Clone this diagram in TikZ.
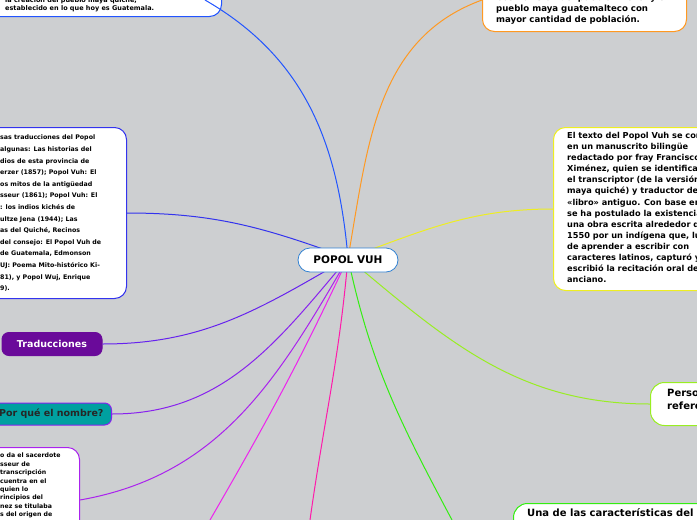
\documentclass[tikz,border=0pt]{standalone}
\usepackage{fontspec}
\setmainfont{DejaVu Sans}
\begin{document}
\begin{tikzpicture}[x=1pt,y=-1pt,
  box/.style={draw,fill=white,rounded corners=12pt,line width=1pt,font=\bfseries,align=left,inner sep=0pt},
  link/.style={line width=1pt}]
\clip (0,0) rectangle (697,520);
\fill[fill={rgb,255:red,205;green,207;blue,209}] (0,0) rectangle (697,520);
\coordinate (c) at (348,258);
\coordinate (e1) at (210,520);
\coordinate (e2) at (310,520);
\coordinate (e3) at (452,520);
\coordinate (e4) at (80,500);
\coordinate (e5) at (205,0);
\coordinate (e6) at (482,0);
% boxes
\node[box,draw={rgb,255:red,34;green,85;blue,255},anchor=south east,minimum width=260pt,minimum height=30pt] (tl) at (222,17) {};
\node[anchor=north west,font=\bfseries\fontsize{6.5}{8}\selectfont,align=left,inner sep=0pt] (tlt) at (5,-3) {la creación del pueblo maya quiché,\\establecido en lo que hoy es Guatemala.};
\node[box,draw={rgb,255:red,255;green,153;blue,34},anchor=south west,minimum width=204pt,minimum height=60pt] (tr) at (482,32) {};
\node[anchor=north west,font=\bfseries\fontsize{8.6}{11}\selectfont,inner sep=0pt,align=left] (trt) at (496,-7) {Cosmovisión del pueblo K'iche' y el\\pueblo maya guatemalteco con\\mayor cantidad de población.};
\node[box,draw={rgb,255:red,51;green,51;blue,238},anchor=north east,minimum width=180pt,minimum height=171pt] (tra) at (127,127) {};
\node[anchor=north west,font=\bfseries\fontsize{6.3}{11.6}\selectfont,inner sep=0pt,align=left] (trat) at (0,135) {sas traducciones del Popol\\algunas: Las historias del\\dios de esta provincia de\\erzer (1857); Popol Vuh: El\\os mitos de la antigüedad\\sseur (1861); Popol Vuh: El\\: los indios kichés de\\ultze Jena (1944); Las\\as del Quiché, Recinos\\del consejo: El Popol Vuh de\\ de Guatemala, Edmonson\\UJ: Poema Mito-histórico Ki-\\81), y Popol Wuj, Enrique\\9).};
\node[box,fill={rgb,255:red,106;green,10;blue,154},draw={rgb,255:red,106;green,10;blue,154},rounded corners=7pt,minimum width=100pt,minimum height=23pt,text=white,font=\bfseries\fontsize{9.5}{11}\selectfont,align=center] (trd) at (52,344) {Traducciones};
\node[box,fill={rgb,255:red,0;green,160;blue,160},draw={rgb,255:red,136;green,34;blue,238},rounded corners=7pt,minimum width=122pt,minimum height=22pt,text=black!85,font=\bfseries\fontsize{9.5}{11}\selectfont,anchor=east] (pq) at (112,414) {¿Por qué el nombre?\hspace*{4pt}};
\node[box,draw={rgb,255:red,170;green,34;blue,238},anchor=north east,minimum width=150pt,minimum height=120pt] (bl) at (80,447) {};
\node[anchor=north west,font=\bfseries\fontsize{6.2}{8.4}\selectfont,inner sep=0pt,align=left] (blt) at (0,453) {o da el sacerdote\\sseur de\\ transcripción\\cuentra en el\\ quien lo\\rincipios del\\nez se titulaba\\s del origen de};
\node[box,draw={rgb,255:red,238;green,238;blue,34},anchor=north west,minimum width=180pt,minimum height=163pt] (ye) at (553,127) {};
\node[anchor=north west,font=\bfseries\fontsize{8.2}{11.1}\selectfont,inner sep=0pt,align=left] (yet) at (567,132) {El texto del Popol Vuh se conserva\\en un manuscrito bilingüe\\redactado por fray Francisco\\Ximénez, quien se identifica como\\el transcriptor (de la versión\\maya quiché) y traductor de un\\«libro» antiguo. Con base en esto\\se ha postulado la existencia de\\una obra escrita alrededor de\\1550 por un indígena que, luego\\de aprender a escribir con\\caracteres latinos, capturó y\\escribió la recitación oral de un\\anciano.};
\node[box,draw={rgb,255:red,153;green,238;blue,34},anchor=north west,minimum width=100pt,minimum height=43pt,rounded corners=14pt] (pe) at (650,382) {};
\node[anchor=north west,font=\bfseries\fontsize{10}{13}\selectfont,inner sep=0pt,align=left] (pet) at (667,389) {Personajes\\referencias};
\node[box,draw={rgb,255:red,51;green,238;blue,17},anchor=north west,minimum width=250pt,minimum height=60pt,rounded corners=14pt] (ur) at (513,503) {};
\node[anchor=north west,font=\bfseries\fontsize{10}{13}\selectfont,inner sep=0pt,align=left] (urt) at (527,508) {Una de las características del};
% links
\draw[link,draw={rgb,255:red,34;green,85;blue,255}] (c) to[out=95,in=-30] (e5);
\draw[link,draw={rgb,255:red,255;green,153;blue,34}] (c) to[out=80,in=-160] (e6);
\draw[link,draw={rgb,255:red,238;green,238;blue,34}] (c) to[out=20,in=180] (ye.west);
\draw[link,draw={rgb,255:red,51;green,51;blue,238}] (c) to[out=160,in=0] (tra.east);
\draw[link,draw={rgb,255:red,102;green,34;blue,238}] (c) to[out=-150,in=0] (trd.east);
\draw[link,draw={rgb,255:red,136;green,34;blue,238}] (c) to[out=-130,in=0] (pq.east);
\draw[link,draw={rgb,255:red,170;green,34;blue,238}] (c) to[out=-120,in=10] (e4);
\draw[link,draw={rgb,255:red,238;green,34;blue,238}] (c) to[out=-115,in=60] (e1);
\draw[link,draw={rgb,255:red,255;green,26;blue,170}] (c) to[out=-95,in=82] (e2);
\draw[link,draw={rgb,255:red,51;green,238;blue,17}] (c) to[out=-78,in=118] (e3);
\draw[link,draw={rgb,255:red,153;green,238;blue,34}] (c) to[out=-40,in=180] (pe.west);
\node[box,draw={rgb,255:red,50;green,130;blue,210},line width=0.8pt,minimum width=100pt,minimum height=24pt,font=\bfseries\fontsize{10.5}{12}\selectfont,align=center] (pv) at (348,260) {POPOL VUH};
\end{tikzpicture}
\end{document}
